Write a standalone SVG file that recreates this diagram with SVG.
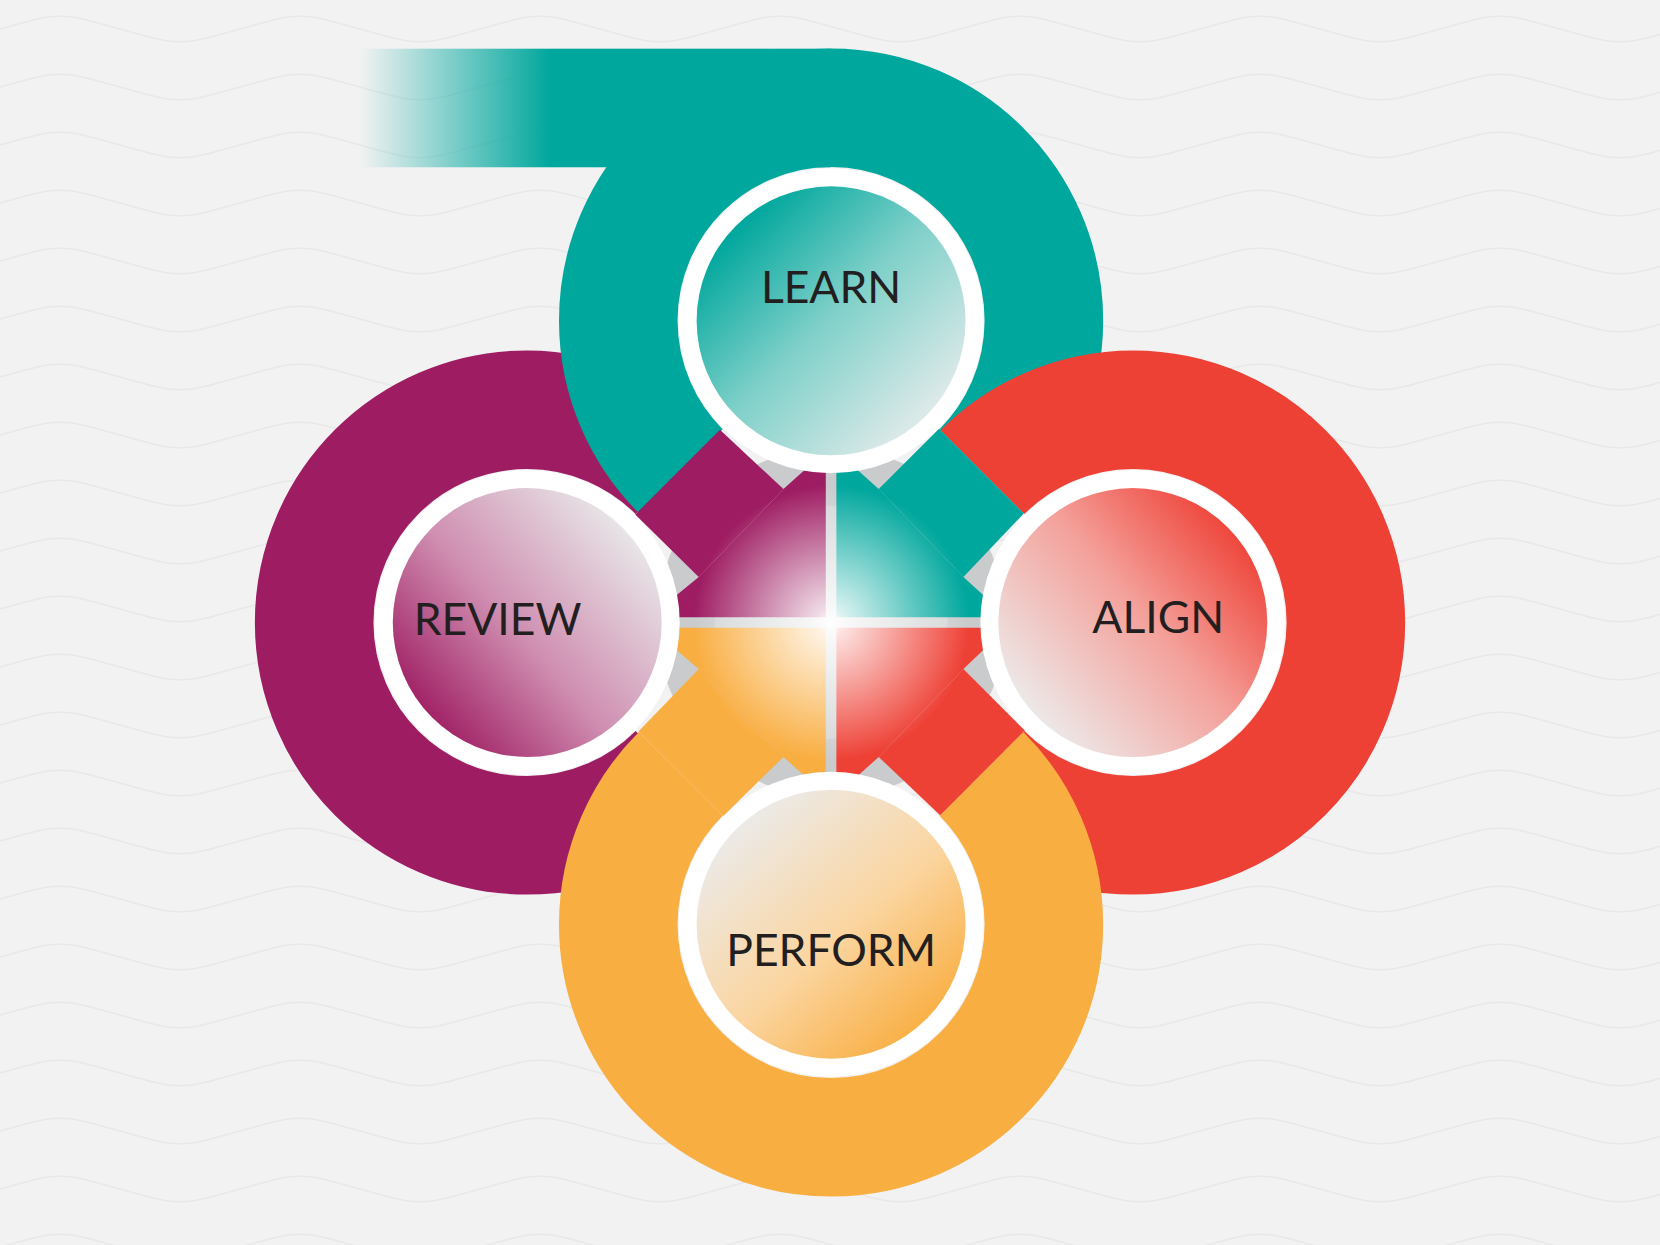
<svg xmlns="http://www.w3.org/2000/svg" width="1660" height="1245" viewBox="0 0 1660 1245">
<defs>
<style>
.lbl{font-family:Lato,"Liberation Sans",sans-serif;font-size:42px;fill:#231f20;text-anchor:middle}
.wave{fill:none;stroke:#e8e8e8;stroke-width:1.5}
.ring{fill:none;stroke-width:112}
.ow{fill:#fff}
</style>
<pattern id="waves" width="240" height="58" patternUnits="userSpaceOnUse">
<path class="wave" d="M0 29 C60 12 60 12 120 29 S180 46 240 29"/>
</pattern>
<linearGradient id="fade" x1="340" y1="0" x2="520" y2="0" gradientUnits="userSpaceOnUse">
<stop offset="0" stop-color="#00a79d" stop-opacity="0"/><stop offset="1" stop-color="#00a79d"/>
</linearGradient>
<linearGradient id="gT" x1="0.1" y1="0.2" x2="0.85" y2="0.95"><stop offset="0" stop-color="#00a79d"/><stop offset="0.45" stop-color="#7fd0c9"/><stop offset="1" stop-color="#e9eded"/></linearGradient>
<linearGradient id="gP" x1="0.1" y1="0.85" x2="0.9" y2="0.15"><stop offset="0" stop-color="#9e1c62"/><stop offset="0.45" stop-color="#cf8db0"/><stop offset="1" stop-color="#e9e9ea"/></linearGradient>
<linearGradient id="gR" x1="0.9" y1="0.15" x2="0.1" y2="0.85"><stop offset="0" stop-color="#ee4136"/><stop offset="0.45" stop-color="#f4a09a"/><stop offset="1" stop-color="#ececec"/></linearGradient>
<linearGradient id="gO" x1="0.85" y1="0.9" x2="0.15" y2="0.1"><stop offset="0" stop-color="#f9ae42"/><stop offset="0.45" stop-color="#fbd5a0"/><stop offset="1" stop-color="#ebebeb"/></linearGradient>
<radialGradient id="glow" cx="785" cy="588" r="130" gradientUnits="userSpaceOnUse"><stop offset="0" stop-color="#fff"/><stop offset="0.1" stop-color="#fff" stop-opacity="0.85"/><stop offset="1" stop-color="#fff" stop-opacity="0"/></radialGradient>
</defs>
<rect width="1660" height="1245" fill="#f2f2f2"/>
<rect width="1660" height="1245" fill="url(#waves)"/>
<g transform="scale(1.0587)">
<g id="connectors">
<circle cx="785" cy="588" r="165" fill="#c9cbcc"/>
<circle cx="785" cy="588" r="110" fill="#d3d5d6"/>
<rect x="340" y="46" width="445" height="112" fill="url(#fade)"/>
<path class="ring" stroke="#9e1c62" d="M640 446 A201 201 0 1 0 640 730"/>
<path class="ring" stroke="#00a79d" d="M927 445 A201 201 0 1 0 643 445"/>
<path class="ring" stroke="#ee4136" d="M928 730 A201 201 0 1 0 928 446"/>
<path class="ring" stroke="#f9ae42" d="M927 731 A201 201 0 1 1 643 731"/>
<path d="M600 486 L680 406 L740 462 L660 545 Z" fill="#9e1c62"/>
<path d="M887 405 L967 485 L910 545 L830 462 Z" fill="#00a79d"/>
<path d="M968 690 L888 770 L830 715 L910 632 Z" fill="#ee4136"/>
<path d="M683 771 L603 691 L660 632 L740 715 Z" fill="#f9ae42"/>
<path d="M790 583 V440 L800 435 L830 462 L910 545 L935 568 V583 Z" fill="#00a79d"/>
<path d="M780 583 V440 L770 435 L740 462 L660 545 L632 568 V583 Z" fill="#9e1c62"/>
<path d="M780 593 V738 L770 742 L740 715 L660 632 L632 608 V593 Z" fill="#f9ae42"/>
<path d="M790 593 V738 L800 742 L830 715 L910 632 L935 608 V593 Z" fill="#ee4136"/>
<circle cx="785" cy="588" r="130" fill="url(#glow)"/>
</g>
<g id="learn"><circle class="ow" cx="785" cy="303" r="144"/><circle cx="785" cy="303" r="127" fill="url(#gT)"/><text class="lbl" x="785" y="286">LEARN</text></g>
<g id="review"><circle class="ow" cx="498" cy="588" r="144"/><circle cx="498" cy="588" r="127" fill="url(#gP)"/><text class="lbl" x="470" y="600">REVIEW</text></g>
<g id="align"><circle class="ow" cx="1070" cy="588" r="144"/><circle cx="1070" cy="588" r="127" fill="url(#gR)"/><text class="lbl" x="1094" y="598">ALIGN</text></g>
<g id="perform"><circle class="ow" cx="785" cy="873" r="144"/><circle cx="785" cy="873" r="127" fill="url(#gO)"/><text class="lbl" x="785" y="912">PERFORM</text></g>
</g>
</svg>
